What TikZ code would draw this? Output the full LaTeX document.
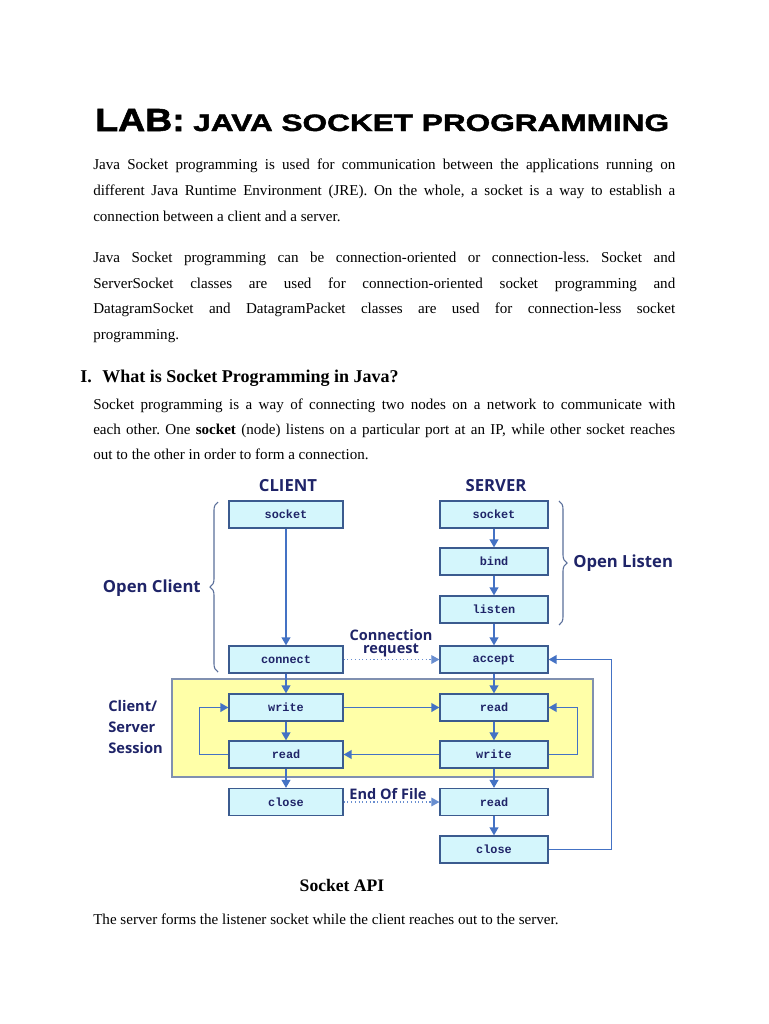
\documentclass[tikz,border=0pt]{standalone}
\usepackage{fontspec}
\usepackage{graphicx}
\setmainfont{Liberation Serif}
\newfontfamily\ttlfont{Liberation Sans}[BoldFeatures={FakeBold=1.6}]
\newfontfamily\dgfont{Open Sans}
\newfontfamily\mnfont{Liberation Mono}
\usetikzlibrary{arrows.meta,decorations.pathreplacing}
\definecolor{boxfill}{HTML}{D4F6FC}
\definecolor{boxline}{HTML}{3B5B8F}
\definecolor{arrowc}{HTML}{4472C4}
\definecolor{sessfill}{HTML}{FFFFA8}
\definecolor{sessline}{HTML}{8090B0}
\definecolor{navy}{HTML}{1F2468}
\definecolor{bracec}{HTML}{5A6F9A}
\newcommand\jline[1]{\makebox[436.5pt][s]{#1}}
\frenchspacing
\begin{document}
\begin{tikzpicture}[x=0.75pt,y=-0.75pt,
  body/.style={anchor=base west, inner sep=0pt, font=\fontsize{11.3}{13}\selectfont},
  hd/.style={anchor=base, inner sep=0pt, font=\fontsize{13.2}{15}\selectfont\bfseries},
  cbox/.style={draw=boxline, fill=boxfill, line width=0.9pt, minimum width=85.5pt, minimum height=20.25pt, inner sep=0pt, font=\mnfont\bfseries\fontsize{8.9}{10}\selectfont, text=navy},
  sbox/.style={cbox, minimum width=81pt},
  arr/.style={draw=arrowc, line width=1.3pt, -{Triangle[length=6pt,width=6.5pt]}},
  dotarr/.style={draw=arrowc!80, line width=0.8pt, dotted, -{Triangle[length=6pt,width=6.5pt]}},
  lbl/.style={text=navy, inner sep=0pt, font=\dgfont\bfseries\fontsize{12.5}{14}\selectfont},
  slbl/.style={text=navy, inner sep=0pt, font=\dgfont\bfseries\fontsize{10.9}{11}\selectfont},
  brc/.style={draw=bracec, line width=0.8pt, decorate, decoration={brace, amplitude=6pt}}
]
\useasboundingbox (0,0) rectangle (768,1024);
\fill[white] (0,0) rectangle (768,1024);

% Title
\node[anchor=base west, inner sep=0pt] (t1) at (95,131) {\ttlfont\bfseries\fontsize{24}{24}\selectfont\scalebox{1.17}[1]{LAB:}};
\node[anchor=base west, inner sep=0pt] (t2) at (193,131) {\ttlfont\bfseries\fontsize{17.8}{18}\selectfont\scalebox{1.33}[1]{JAVA SOCKET PROGRAMMING}};

% Paragraph 1
\node[body] (p11) at (93,169) {\jline{Java Socket programming is used for communication between the applications running on}};
\node[body] (p12) at (93,195) {\jline{different Java Runtime Environment (JRE). On the whole, a socket is a way to establish a}};
\node[body] (p13) at (93,221) {connection between a client and a server.};

% Paragraph 2
\node[body] (p21) at (93,262) {\jline{Java Socket programming can be connection-oriented or connection-less. Socket and}};
\node[body] (p22) at (93,288) {\jline{ServerSocket classes are used for connection-oriented socket programming and}};
\node[body] (p23) at (93,313) {\jline{DatagramSocket and DatagramPacket classes are used for connection-less socket}};
\node[body] (p24) at (93,339) {programming.};

% Heading
\node[anchor=base west, inner sep=0pt, font=\fontsize{13.5}{15}\selectfont\bfseries] (h1) at (80,382) {I.\hspace{8pt}What is Socket Programming in Java?};

% Paragraph 3
\node[body] (p31) at (93,409) {\jline{Socket programming is a way of connecting two nodes on a network to communicate with}};
\node[body] (p32) at (93,434) {\jline{each other. One \textbf{socket} (node) listens on a particular port at an IP, while other socket reaches}};
\node[body] (p33) at (93,459) {out to the other in order to form a connection.};

% Session area
\draw[draw=sessline, fill=sessfill, line width=0.9pt] (172,679) rectangle (593,777);

% Column headers
\node[lbl] (chd) at (288,486) {CLIENT};
\node[lbl] (shd) at (496,486) {SERVER};

% Client boxes
\node[cbox] (cs) at (286,514.5) {socket};
\node[cbox] (cc) at (286,659.5) {connect};
\node[cbox] (cw) at (286,707.5) {write};
\node[cbox] (cr) at (286,754.5) {read};
\node[cbox] (ccl) at (286,802) {close};

% Server boxes
\node[sbox] (ss) at (494,514.5) {socket};
\node[sbox] (sb) at (494,561.5) {bind};
\node[sbox] (sl) at (494,609.5) {listen};
\node[sbox] (sa) at (494,659.5) {accept};
\node[sbox] (sr) at (494,707.5) {read};
\node[sbox] (sw) at (494,754.5) {write};
\node[sbox] (sr2) at (494,802) {read};
\node[sbox] (sc) at (494,849.5) {close};

% Client arrows
\draw[arr] (cs) -- (cc);
\draw[arr] (cc) -- (cw);
\draw[arr] (cw) -- (cr);
\draw[arr] (cr) -- (ccl);
\draw[arr] (cr.west) -- ++(-29,0) |- (cw.west);

% Server arrows
\draw[arr] (ss) -- (sb);
\draw[arr] (sb) -- (sl);
\draw[arr] (sl) -- (sa);
\draw[arr] (sa) -- (sr);
\draw[arr] (sr) -- (sw);
\draw[arr] (sw) -- (sr2);
\draw[arr] (sr2) -- (sc);
\draw[arr] (sw.east) -- ++(29,0) |- (sr.east);
\draw[arr] (sc.east) -- ++(63,0) |- (sa.east);

% Cross arrows
\draw[arr] (cw.east) -- (sr.west);
\draw[arr] (sw.west) -- (cr.east);
\draw[dotarr] (cc.east) -- (sa.west);
\draw[dotarr] (ccl.east) -- (sr2.west);

% Labels
\node[slbl, align=center, font=\dgfont\bfseries\fontsize{10.9}{10}\selectfont] (creq) at (391,643) {Connection\\request};
\node[slbl] (eof) at (388,794) {End Of File};
\node[slbl, align=left, anchor=west, font=\dgfont\bfseries\fontsize{11}{15.4}\selectfont] (sess) at (108,727) {Client/\\Server\\Session};

% Braces
\draw[brc] (218,672) -- (218,502);
\node[lbl, anchor=east] (oc) at (201,588) {Open Client};
\draw[brc] (559,501) -- (559,625);
\node[lbl, anchor=west] (ol) at (573,563) {Open Listen};

% Caption and final line
\node[hd] (cap) at (342,891) {Socket API};
\node[body] (p41) at (93,924) {The server forms the listener socket while the client reaches out to the server.};
\end{tikzpicture}
\end{document}
